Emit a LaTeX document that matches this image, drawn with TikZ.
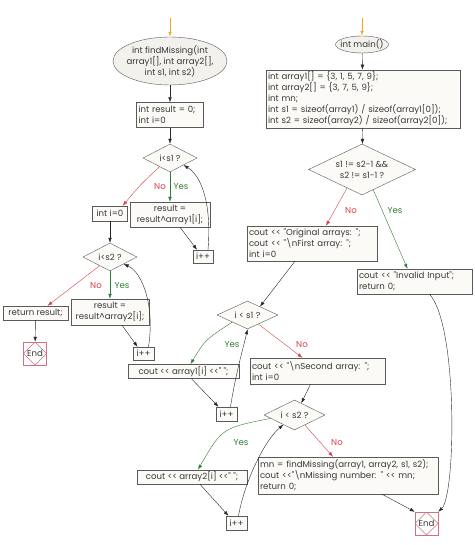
\documentclass[tikz,border=0pt]{standalone}
\usepackage{fontspec}
\setmainfont{Poppins}[Ligatures=TeXOff]
\usetikzlibrary{shapes.geometric,arrows.meta}
\definecolor{boxfill}{HTML}{FCFAF6}
\definecolor{termfill}{HTML}{F3F1EC}
\definecolor{linegray}{HTML}{5A5A5A}
\definecolor{noRed}{HTML}{D9414B}
\definecolor{yesGreen}{HTML}{2F7D32}
\definecolor{startOrange}{HTML}{F5A623}
\definecolor{endRed}{HTML}{D27080}
\begin{document}
\begin{tikzpicture}[x=1pt,y=-1pt,>={Latex[length=5pt,width=3.5pt]},
  every node/.style={font=\fontsize{8.6}{11}\selectfont, text=black!78},
  stmt/.style={draw=linegray, fill=boxfill, rectangle, inner sep=2pt, align=left},
  cond/.style={draw=linegray, fill=boxfill, diamond, aspect=2, inner sep=0pt, align=center},
  term/.style={draw=linegray, fill=termfill, ellipse, inner sep=-4pt, align=center},
  endbox/.style={draw=endRed, fill=white, minimum size=23pt, inner sep=0pt,
    path picture={\draw[endRed] (path picture bounding box.north) -- (path picture bounding box.east)
      -- (path picture bounding box.south) -- (path picture bounding box.west) -- cycle;}},
  flow/.style={->, black!85, thin},
  noflow/.style={->, noRed, thin},
  yesflow/.style={->, yesGreen, thin},
  startflow/.style={->, startOrange, semithick},
  nolbl/.style={text=noRed},
  yeslbl/.style={text=yesGreen}]
\useasboundingbox (0,0) rectangle (474,545);

\coordinate(s1) at (170,18);
\node[term, minimum width=114pt, minimum height=48pt](fm) at (170,61) {int findMissing(int\\array1[], int array2[],\\int s1, int s2)};
\node[stmt, text width=63pt, minimum height=25pt](init1) at (170,115) {int result = 0;\\int i=0};
\node[cond, minimum width=54pt, minimum height=28pt](c1) at (170,158) {i<s1 ?};
\node[stmt, minimum width=35pt, minimum height=15pt](zero1) at (110,213.5) {int i=0};
\node[stmt, align=center, minimum width=80pt, minimum height=25pt](res1) at (170,214.5) {result =\\result\textasciicircum array1[i];};
\node[stmt, minimum width=20pt, minimum height=13pt](inc1) at (203,256.5) {i++};
\node[cond, minimum width=54pt, minimum height=28pt](c2) at (110,257) {i<s2 ?};
\node[stmt, minimum width=65pt, minimum height=14pt](ret) at (35.5,313) {return result;};
\node[stmt, align=center, minimum width=78pt, minimum height=26pt](res2) at (110,312) {result =\\result\textasciicircum array2[i];};
\node[stmt, minimum width=21pt, minimum height=13pt](inc2) at (143.5,353.5) {i++};
\node[endbox](fin1) at (35,353.5) {End};

\coordinate(s2) at (362,18);
\node[term, minimum width=53pt, minimum height=17pt](mainfn) at (362,44.5) {int main()};
\node[stmt, text width=190pt, minimum height=56pt](decl) at (363,99) {int array1[] = \{3, 1, 5, 7, 9\};\\int array2[] = \{3, 7, 5, 9\};\\int mn;\\int s1 = sizeof(array1) / sizeof(array1[0]);\\int s2 = sizeof(array2) / sizeof(array2[0]);};
\node[cond, minimum width=107pt, minimum height=51pt](c3) at (362,169.5) {s1 != s2-1 \&\&\\s2 != s1-1 ?};
\node[stmt, text width=126pt, minimum height=35pt](orig) at (312,243.5) {cout << "Original arrays: ";\\cout << "\textbackslash nFirst array: ";\\int i=0};
\node[stmt, text width=111pt, minimum height=25pt](inval) at (414.5,281.5) {cout << "Invalid Input";\\return 0;};
\node[cond, minimum width=61pt, minimum height=28pt](c4) at (247.5,315) {i < s1 ?};
\node[stmt, minimum width=111pt, minimum height=14pt](out1) at (183.5,371.5) {cout << array1[i] <<" ";};
\node[stmt, text width=131pt, minimum height=26pt](sec) at (317.5,371) {cout << "\textbackslash nSecond array: ";\\int i=0};
\node[stmt, minimum width=21pt, minimum height=14pt](inc3) at (226.5,414) {i++};
\node[cond, minimum width=61pt, minimum height=30pt](c5) at (294.5,415) {i < s2 ?};
\node[stmt, minimum width=110pt, minimum height=14pt](out2) at (192,477) {cout << array2[i] <<" ";};
\node[stmt, text width=176pt, minimum height=37pt](mn) at (348,475.5) {mn = findMissing(array1, array2, s1, s2);\\cout <<"\textbackslash nMissing number: " << mn;\\return 0;};
\node[stmt, minimum width=21pt, minimum height=14pt](inc4) at (236.5,523) {i++};
\node[endbox](fin2) at (426.5,523.5) {End};

\node[nolbl](no1) at (160,187) {No};
\node[yeslbl](yes1) at (181,187) {Yes};
\node[nolbl](no2) at (96,286) {No};
\node[yeslbl](yes2) at (122,286) {Yes};
\node[nolbl](no3) at (351,211) {No};
\node[yeslbl](yes3) at (395,211) {Yes};
\node[yeslbl](yes4) at (232,345) {Yes};
\node[nolbl](no4) at (302,345) {No};
\node[yeslbl](yes5) at (241,443) {Yes};
\node[nolbl](no5) at (337,443) {No};

\draw[startflow] (s1) -- (fm);
\draw[flow] (fm) -- (init1);
\draw[flow] (init1) -- (c1);
\draw[noflow] (c1.220) .. controls (140,185) .. ([xshift=-5pt]zero1.north east);
\draw[yesflow] (c1) -- (res1);
\draw[flow] ([xshift=10pt]res1.south) -- ([xshift=-6pt]inc1.north);
\draw[flow] ([xshift=5pt]inc1.north) .. controls (212,200) and (200,175) .. (c1.south east);
\draw[flow] (zero1) -- (c2);
\draw[noflow] (c2.220) -- ([xshift=12pt]ret.north);
\draw[yesflow] (c2) -- (res2);
\draw[flow] ([xshift=12pt]res2.south) -- ([xshift=-6pt]inc2.north);
\draw[flow] ([xshift=5pt]inc2.north) .. controls (155,305) and (142,272) .. (c2.south east);
\draw[flow] (ret) -- (fin1);

\draw[startflow] (s2) -- (mainfn);
\draw[flow] (mainfn) -- (decl);
\draw[flow] (decl) -- (c3);
\draw[noflow] (c3.231) -- ([xshift=14pt]orig.north);
\draw[yesflow] (c3.299) -- ([xshift=-7pt]inval.north);
\draw[flow] ([xshift=-17pt]orig.south) -- (c4.34);
\draw[yesflow] (c4.205) .. controls (205,340) .. ([xshift=7pt]out1.north);
\draw[noflow] (c4.320) -- ([xshift=-15pt]sec.north);
\draw[flow] ([xshift=8pt]out1.south) -- ([xshift=-8pt]inc3.north);
\draw[flow] ([xshift=4pt]inc3.north) .. controls (236,372) and (244,345) .. (c4.south);
\draw[flow] ([xshift=-7pt]sec.south) -- (c5.60);
\draw[yesflow] (c5.188) .. controls (222,428) .. ([xshift=6pt]out2.north);
\draw[noflow] (c5.316) -- ([xshift=-15pt]mn.north);
\draw[flow] ([xshift=8pt]out2.south) -- ([xshift=-8pt]inc4.north);
\draw[flow] ([xshift=2pt]inc4.north) .. controls (245,480) and (265,440) .. (c5.221);
\draw[flow] ([xshift=34pt]mn.south) -- (fin2.north west);
\draw[flow] ([xshift=15pt]inval.south) .. controls (458,325) and (456,495) .. (fin2.north east);
\end{tikzpicture}
\end{document}
